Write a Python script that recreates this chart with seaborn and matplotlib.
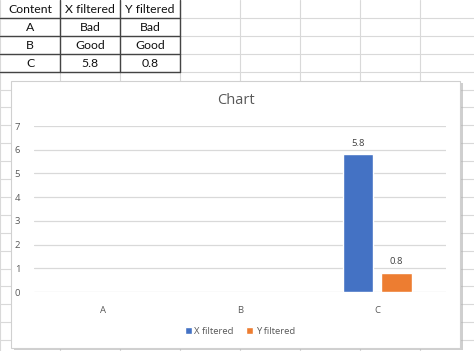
import numpy as np
import pandas as pd
import matplotlib
matplotlib.use("Agg")
import matplotlib.pyplot as plt
from matplotlib.lines import Line2D
from matplotlib.patches import Rectangle
import seaborn as sns

# ---- data (as shown in the sheet) ----
header = ["Content", "X filtered", "Y filtered"]
categories = ["A", "B", "C"]
x_filtered = ["Bad", "Good", "5.8"]
y_filtered = ["Bad", "Good", "0.8"]
series_names = ["X filtered", "Y filtered"]
colors = ["#4472C4", "#ED7D31"]
chart_title = "Chart"
y_ticks = [0, 1, 2, 3, 4, 5, 6, 7]

sns.set_theme(style="white")
plt.rcParams["font.family"] = ["Open Sans", "DejaVu Sans"]

W, H = 474, 351
fig = plt.figure(figsize=(W / 100, H / 100), dpi=100)
fig.patch.set_facecolor("white")


def fx(px):
    return px / W


def fy(py):
    return 1 - py / H


# ---- spreadsheet grid ----
col_w, row_h = 60, 17.9
grid_c = "#d9d9d9"
x = 0
while x <= W:
    fig.add_artist(Line2D([fx(x), fx(x)], [0, 1], color=grid_c, lw=0.8, zorder=0))
    x += col_w
y = row_h
while y <= H:
    fig.add_artist(Line2D([0, 1], [fy(y), fy(y)], color=grid_c, lw=0.8, zorder=0))
    y += row_h

# table borders
rows = [header] + [[c, a, b] for c, a, b in zip(categories, x_filtered, y_filtered)]
n_rows = len(rows)
tab_right = col_w * 3
for i in range(1, n_rows + 1):
    yy = i * row_h
    fig.add_artist(Line2D([0, fx(tab_right)], [fy(yy), fy(yy)], color="#444444", lw=1.0, zorder=1))
for j in range(1, 4):
    xx = j * col_w
    fig.add_artist(Line2D([fx(xx), fx(xx)], [fy(0), fy(n_rows * row_h)], color="#444444", lw=1.0, zorder=1))
for i, r in enumerate(rows):
    for j, t in enumerate(r):
        fig.text(fx(j * col_w + col_w / 2), fy(i * row_h + row_h / 2 + 0.5), t,
                 ha="center", va="center", fontsize=8.8, color="#111111",
                 family=["Lato", "DejaVu Sans"], zorder=2)

# ---- chart box with shadow ----
bx0, by0, bx1, by1 = 11, 81, 460, 348
fig.add_artist(Rectangle((fx(bx0 + 3), fy(by1 + 2)), fx(bx1 - bx0), fy(by0) - fy(by1),
                         facecolor="#b0b0b0", edgecolor="none", zorder=3, alpha=0.6))
fig.add_artist(Rectangle((fx(bx0), fy(by1)), fx(bx1 - bx0), fy(by0) - fy(by1),
                         facecolor="white", edgecolor="#d0d0d0", lw=0.8, zorder=4))

# ---- chart ----
recs = []
for s_name, vals in zip(series_names, [x_filtered, y_filtered]):
    for c, v in zip(categories, vals):
        recs.append({"Content": c, "series": s_name, "value": pd.to_numeric(v, errors="coerce")})
df = pd.DataFrame(recs)

ax_l, ax_r, ax_t, ax_b = 34, 446, 126, 292
ax = fig.add_axes([fx(ax_l), fy(ax_b), fx(ax_r - ax_l), fy(ax_t) - fy(ax_b)])
ax.set_zorder(5)
ax.patch.set_alpha(0)

sns.barplot(data=df, x="Content", y="value", hue="series", order=categories,
            hue_order=series_names, palette=colors, width=0.56, gap=0.21,
            errorbar=None, ax=ax, saturation=1)

ax.set_xlim(-0.5, len(categories) - 0.5)
ax.set_ylim(0, 7)
ax.set_yticks(y_ticks)
ax.yaxis.grid(True, color="#d9d9d9", lw=0.9)
ax.set_axisbelow(True)
for sp in ax.spines.values():
    sp.set_visible(False)
ax.set_xlabel("")
ax.set_ylabel("")
ax.tick_params(axis="y", length=0, pad=10, labelsize=6.8, labelcolor="#595959")
ax.tick_params(axis="x", length=0, pad=10, labelsize=6.8, labelcolor="#595959")

for p in ax.patches:
    h = p.get_height()
    if np.isfinite(h) and h > 0:
        ax.annotate(f"{h:g}", (p.get_x() + p.get_width() / 2, h), xytext=(0, 5),
                    textcoords="offset points", ha="center", va="bottom",
                    fontsize=6.8, color="#404040")

handles, labels = ax.get_legend_handles_labels()
ax.legend(handles, labels, loc="center", bbox_to_anchor=(fx(240), fy(331)),
          bbox_transform=fig.transFigure, ncol=2, frameon=False,
          handlelength=0.75, handleheight=0.75, columnspacing=1.3, handletextpad=0.3,
          prop={"size": 6.8}, labelcolor="#595959")

fig.text(fx(236), fy(101), chart_title, ha="center", va="center", fontsize=10.5,
         color="#595959", zorder=6)

fig.savefig("out.png", dpi=100, facecolor="white")
